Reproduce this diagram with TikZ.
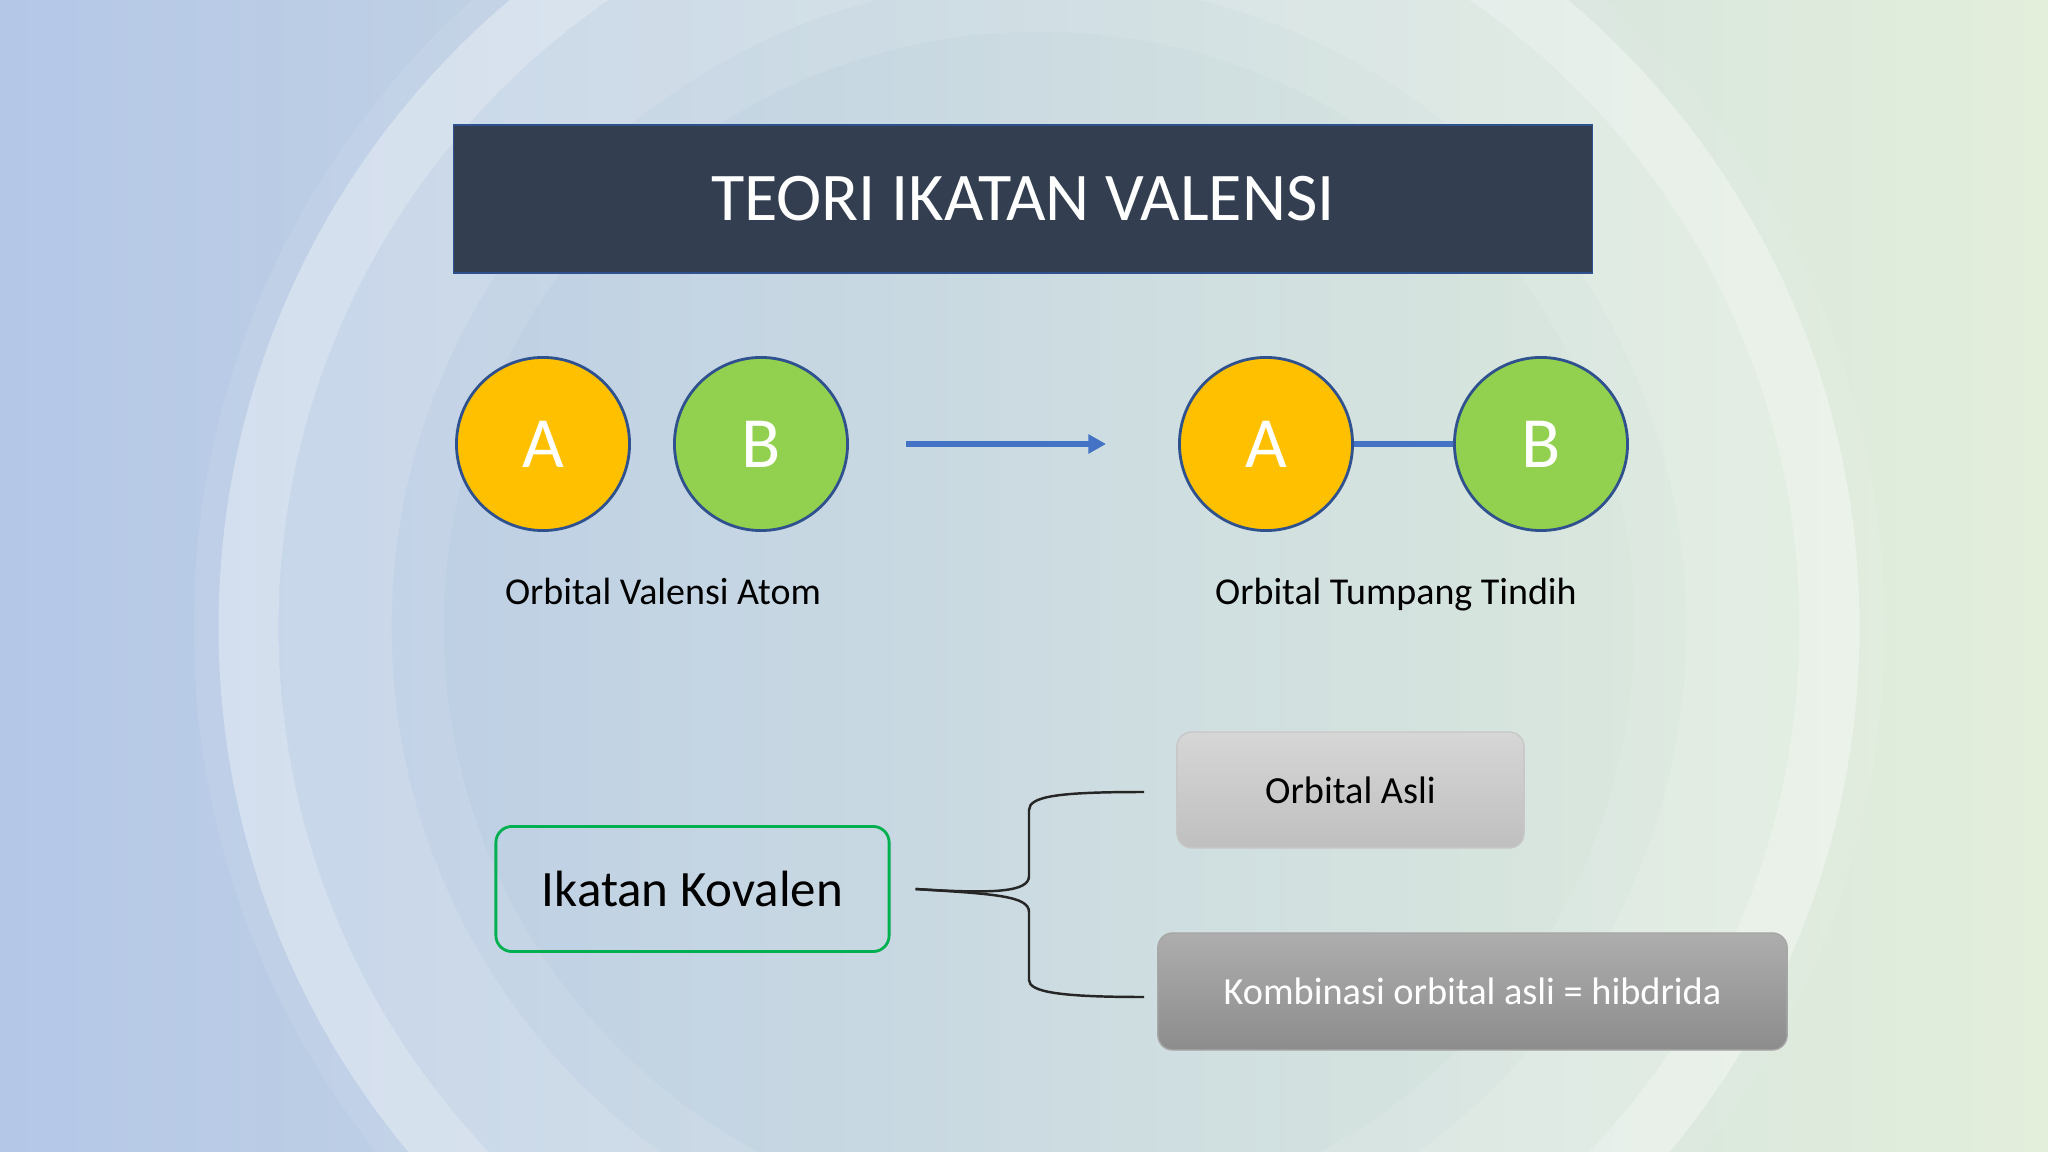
\documentclass[tikz,border=0pt]{standalone}
\usepackage{tikz}
\usepackage{xcolor}
\usepackage{fontspec}
\setmainfont{Carlito}
\usetikzlibrary{calc,
	positioning,
	shapes,
	arrows.meta}
\definecolor{bgl}{HTML}{B4C7E7}
\definecolor{bgr}{HTML}{E3EFDB}
\definecolor{navy}{HTML}{333F50}
\definecolor{edge}{HTML}{2F528F}
\definecolor{orA}{HTML}{FFC000}
\definecolor{grB}{HTML}{92D050}
\definecolor{lnk}{HTML}{4472C4}
\definecolor{kvg}{HTML}{00B050}
\tikzstyle{ttl}=[draw=edge, fill=navy, text=white, minimum width=11.38cm,
		minimum height=1.48cm, font=\fontsize{19.4}{23}\selectfont]
\tikzstyle{orb}=[circle, draw=edge, line width=0.8pt, minimum size=1.73cm,
		inner sep=0, text=white, font=\fontsize{20.5}{24}\selectfont]
\tikzstyle{lbl}=[font=\fontsize{10.8}{13}\selectfont]
\tikzstyle{kv}=[draw=kvg, line width=0.8pt, rounded corners=0.16cm,
		minimum width=3.93cm, minimum height=1.25cm, font=\fontsize{14.5}{17}\selectfont]
\tikzstyle{gbox}=[draw=black!22, top color=black!16, bottom color=black!25,
		rounded corners=0.15cm, font=\fontsize{10.9}{13}\selectfont]
\tikzstyle{dbox}=[draw=black!35, top color=black!32, bottom color=black!45,
		rounded corners=0.15cm, text=white, font=\fontsize{10.9}{13}\selectfont]
\tikzstyle{flow}=[draw=lnk, line width=1.6pt]
\tikzstyle{brc}=[draw=black!85, line width=0.7pt]

\begin{document}
\begin{tikzpicture}[x=0.01cm, y=-0.01cm]
	\useasboundingbox (0,0) rectangle (2048,1152);
	% background and rings
	\fill[left color=bgl, right color=bgr] (0,0) rectangle (2048,1152);
	\coordinate (c) at (1039,627);
	\fill[white, opacity=.08, even odd rule] (c) circle (8.45cm) (c) circle (8.2cm);
	\fill[white, opacity=.38, even odd rule] (c) circle (8.2cm) (c) circle (7.6cm);
	\fill[white, opacity=.20, even odd rule] (c) circle (7.6cm) (c) circle (6.47cm);
	\fill[white, opacity=.10, even odd rule] (c) circle (6.47cm) (c) circle (5.95cm);

	\node[ttl] (title) at (1023,199) {TEORI IKATAN VALENSI};

	% atoms
	\node[orb, fill=orA] (aL) at (543,444) {A};
	\node[orb, fill=grB] (bL) at (761,444) {B};
	\node[orb, fill=orA] (aR) at (1266,444) {A};
	\node[orb, fill=grB] (bR) at (1541,444) {B};
	\draw[flow, -{Triangle[length=5pt,width=5.2pt]}, shorten <=0.57cm,
		shorten >=0.72cm] (bL) -- (aR);
	\draw[flow] (aR) -- (bR);
	\node[lbl] (lblL) at (663,591) {Orbital Valensi Atom};
	\node[lbl] (lblR) at (1396,595) {Orbital Tumpang Tindih};

	% bond types
	\node[kv] (kov) at (692.5,889) {Ikatan Kovalen};
	\node[gbox, minimum width=3.47cm, minimum height=1.16cm] (asli) at (1350.5,790) {Orbital Asli};
	\node[dbox, minimum width=6.29cm, minimum height=1.17cm] (komb) at (1472.5,991.5) {Kombinasi orbital asli = hibdrida};
	\coordinate (tip) at ([xshift=0.25cm]kov.east);
	\coordinate (asliEnd) at ([xshift=-0.32cm,yshift=-0.02cm]asli.west);
	\coordinate (kombEnd) at ([xshift=-0.13cm,yshift=-0.055cm]komb.west);
	\draw[brc] (tip) .. controls (995,894) and (1029,892) .. (1029,876)
		-- (1029,810) .. controls (1029,796) and (1060,792) .. (asliEnd);
	\draw[brc] (tip) .. controls (995,894) and (1029,896) .. (1029,912)
		-- (1029,980) .. controls (1029,992) and (1060,997) .. (kombEnd);
\end{tikzpicture}
\end{document}
